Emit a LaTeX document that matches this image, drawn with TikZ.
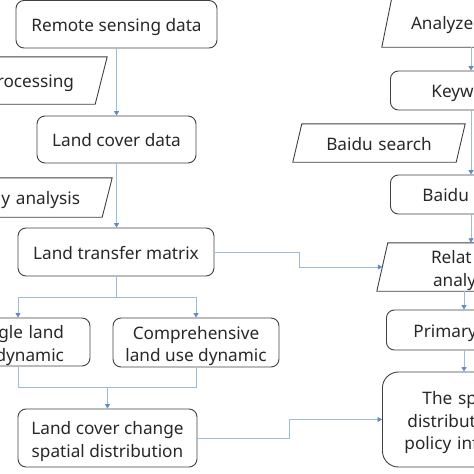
\documentclass[tikz,border=0pt]{standalone}
\usepackage{fontspec}
\setmainfont{Noto Sans}
\usetikzlibrary{arrows.meta}
\definecolor{boxline}{RGB}{64,64,64}
\definecolor{txt}{RGB}{40,40,40}
\definecolor{linkline}{RGB}{155,188,222}
\definecolor{linktip}{RGB}{95,140,195}
\newcommand\topstrut{\rule{0pt}{20pt}}
\begin{document}
\begin{tikzpicture}[x=1pt, y=-1pt,
    every node/.style={font=\fontsize{17.2}{22.5}\selectfont, text=txt},
    box/.style={draw=boxline, line width=0.9pt, rounded corners=8pt, inner sep=0pt, align=center},
    para/.style={inner ysep=0pt, align=center},
    oneline/.style={text height=14.7pt, text depth=0pt},
    plain/.style={draw=linkline, line width=0.8pt},
    link/.style={plain, -{Triangle[width=5pt, length=4.5pt, color=linktip]}}]
    \useasboundingbox (0,0) rectangle (474,474);
    \clip (0,0) rectangle (474,474);
    \node [box, oneline, minimum width=201pt, minimum height=47.5pt] (rs) at (116.5,24.25) {Remote sensing data};
    \node [para, oneline, minimum height=47pt, text width=100pt, align=right, inner xsep=21pt] (pre) at (24,80.5) {rocessing};
    \node [box, oneline, minimum width=159pt, minimum height=47pt] (lc) at (116.5,139.5) {Land cover data};
    \node [para, oneline, minimum height=39pt, text width=100pt, align=right, inner xsep=22pt] (ov) at (30,197.5) {y analysis};
    \node [box, oneline, minimum width=196pt, minimum height=48pt] (ltm) at (116,252) {Land transfer matrix};
    \node [box, minimum width=144pt, minimum height=48pt, text width=92pt, align=right] (sld) at (18,342) {\topstrut gle land\\dynamic};
    \node [box, minimum width=166pt, minimum height=49pt] (cld) at (196,342.5) {\topstrut Comprehensive\\land use dynamic};
    \node [box, minimum width=179pt, minimum height=58pt] (lccsd) at (107.5,438) {\topstrut Land cover change\\spatial distribution};
    \node [para, oneline, minimum height=49pt, text width=120pt, align=left, inner xsep=19pt] (an) at (471,22.5) {Analyze};
    \node [box, oneline, anchor=west, minimum height=39pt, text width=120pt, align=left, inner xsep=41pt] (kw) at (390,90.5) {Keyw};
    \node [para, oneline, minimum height=38pt, text width=120pt, inner xsep=17pt] (bs) at (379,143) {Baidu search};
    \node [box, oneline, anchor=west, minimum height=39pt, text width=120pt, align=left, inner xsep=32pt] (bd) at (390,194.5) {Baidu};
    \node [para, minimum height=48pt, text width=120pt, align=left, inner xsep=43pt] (ra) at (491,267) {\topstrut Relat\\\hspace*{2pt}analy};
    \node [box, oneline, anchor=west, minimum height=40pt, text width=120pt, align=left, inner xsep=27pt] (pr) at (386,330) {Primary};
    \node [box, rounded corners=16pt, anchor=west, minimum height=95pt, text width=120pt, align=left, inner xsep=22pt] (sp) at (382,419.5) {\topstrut\hspace*{18pt}The sp\\\hspace*{3pt}distribut\\policy inf};
    \foreach \n/\s in {pre/12, ov/10, an/10, bs/9, ra/11}
        \draw [boxline, line width=0.9pt] ([xshift=-\s pt]\n.south west) -- (\n.north west)
            -- ([xshift=\s pt]\n.north east) -- (\n.south east) -- cycle;
    \coordinate (colR) at (471,0);
    \coordinate (colS) at (464,0);
    \draw [link] (rs) -- (lc);
    \draw [link] (lc.south) -- (lc.south |- ltm.north);
    \draw [plain] (ltm.south) -- ++(0,21) coordinate (split);
    \draw [link] (split) -| (sld.north);
    \draw [link] (split) -| (cld.north);
    \draw [plain] (sld.south) |- ([yshift=21pt]lccsd.north);
    \draw [plain] (cld.south) |- ([yshift=21pt]lccsd.north);
    \draw [link] ([yshift=21pt]lccsd.north) -- (lccsd.north);
    \draw [link] (ltm.east) -- ++(85,0) |- ([xshift=-5.5pt]ra.west);
    \draw [link] (lccsd.east) -- ++(92,0) |- (sp.west);
    \draw [link] (an.south -| colR) -- (kw.north -| colR);
    \draw [link] (kw.south -| colR) -- (bd.north -| colR);
    \draw [link] (bd.south -| colR) -- (ra.north -| colR);
    \draw [link] (ra.south -| colS) -- (pr.north -| colS);
    \draw [link] (pr.south -| colS) -- (sp.north -| colS);
\end{tikzpicture}
\end{document}
